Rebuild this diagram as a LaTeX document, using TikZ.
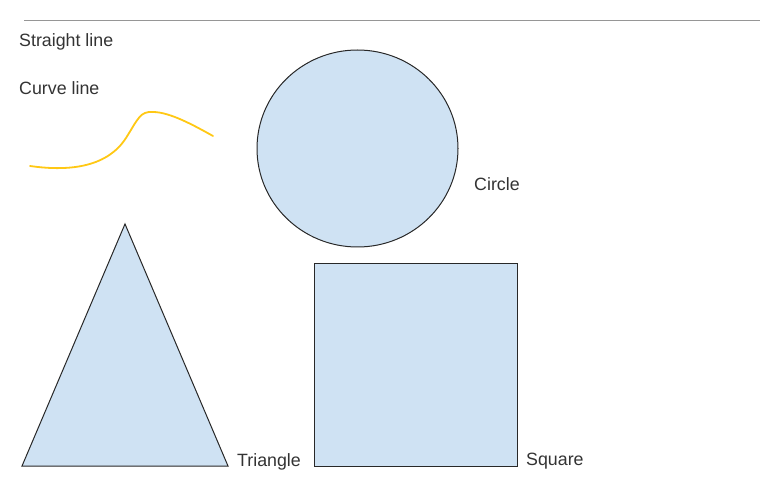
\documentclass[tikz,border=0pt]{standalone}
\usepackage{fontspec}
\setmainfont{Liberation Sans}
\usetikzlibrary{shapes.geometric}
\definecolor{shapefill}{RGB}{207,226,243}
\definecolor{shapeline}{RGB}{40,40,40}
\definecolor{curvecol}{RGB}{255,200,20}
\definecolor{rulecol}{RGB}{150,150,150}
\tikzset{
  lbl/.style={anchor=west, inner sep=0pt, font=\fontsize{17.8}{20}\selectfont, text=black!80},
  shp/.style={draw=shapeline, fill=shapefill, line width=1pt},
}
\begin{document}
\begin{tikzpicture}[x=1pt,y=-1pt]
\useasboundingbox (0,0) rectangle (768,486);
% straight line
\coordinate (l1) at (24,20);
\coordinate (l2) at (760,20);
\draw[rulecol, line width=0.9pt] (l1) -- (l2);
\node[lbl] (tstraight) at (19,41.5) {Straight line};
\node[lbl] (tcurve) at (19,88.5) {Curve line};
% curve
\coordinate (c1) at (30,166);
\coordinate (c2) at (153,112);
\coordinate (c3) at (213,136);
\draw[curvecol, line width=1.8pt, line cap=round]
  (c1) .. controls (72,172) and (108,166) .. (126,138)
  .. controls (138,119) and (140,111) .. (c2)
  .. controls (170,112) and (195,126) .. (c3);
% circle
\node[shp, ellipse, minimum width=201pt, minimum height=197pt, inner sep=0pt] (circ) at (357.5,148.5) {};
\node[lbl] (tcircle) at (474,184.5) {Circle};
% triangle
\coordinate (ta) at (125,224);
\coordinate (tb) at (22,466);
\coordinate (tc) at (228,466);
\draw[shp, line join=miter] (ta) -- (tb) -- (tc) -- cycle;
\node[lbl] (ttri) at (237,461.5) {Triangle};
% square
\node[shp, rectangle, minimum width=203pt, minimum height=202pt, inner sep=0pt] (sq) at (415.5,365) {};
\node[lbl] (tsq) at (526,461.5) {Square};
\end{tikzpicture}
\end{document}
